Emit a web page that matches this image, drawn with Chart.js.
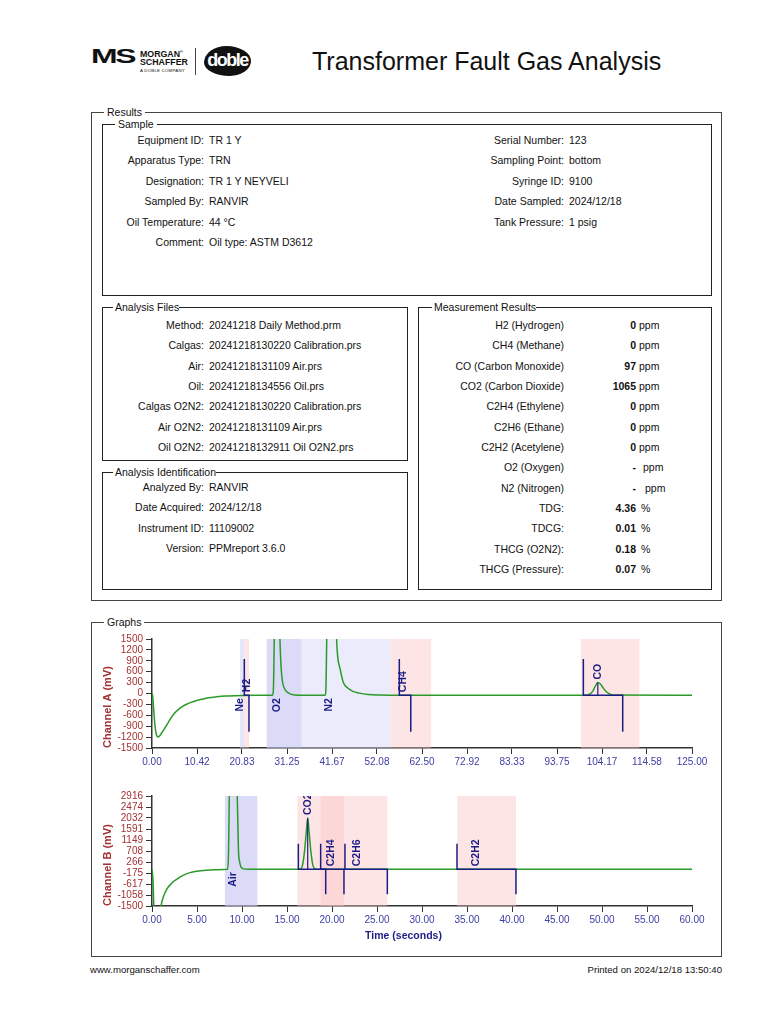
<!DOCTYPE html>
<html><head><meta charset="utf-8">
<script src="https://cdn.jsdelivr.net/npm/chart.js@4.4.1/dist/chart.umd.min.js"></script>
<style>
html,body{margin:0;padding:0;background:#fff;}
body{width:768px;height:1024px;position:relative;overflow:hidden;font-family:"Liberation Sans",Arial,sans-serif;color:#111;}
.box{position:absolute;border:1px solid #222;box-sizing:border-box;}
.outer{border:1.5px solid #444;}
.lg{position:absolute;background:#fff;font-size:10.5px;line-height:12px;padding:0 3px;transform:translateY(-50%);white-space:nowrap;}
.lbl,.val{position:absolute;font-size:10.5px;line-height:12px;transform:translateY(-50%);white-space:nowrap;}
.lbl{text-align:right;}
canvas{position:absolute;}
</style></head>
<body>
<!-- header -->
<div style="position:absolute;left:91px;top:45px;font:bold 21px/22px 'Liberation Sans',Arial;transform:scaleX(1.52);transform-origin:left top;letter-spacing:-1.5px;">MS</div>
<div style="position:absolute;left:140px;top:48px;font:bold 8.8px/8.5px 'Liberation Sans',Arial;">MORGAN<sup style="font-size:4px">®</sup><br>SCHAFFER</div>
<div style="position:absolute;left:140px;top:68px;font:4.4px/5px 'Liberation Sans',Arial;letter-spacing:0.2px;">A DOBLE COMPANY</div>
<div style="position:absolute;left:195px;top:48px;width:1px;height:27px;background:#444;"></div>
<div style="position:absolute;left:204px;top:46px;width:47px;height:30px;background:#111;border-radius:48% 52% 45% 55%/55% 50% 50% 45%;color:#fff;font:bold 18px/29px 'Liberation Sans',Arial;text-align:center;letter-spacing:-1.5px;">doble</div>
<div style="position:absolute;left:312px;top:46px;font:25px/30px 'Liberation Sans',Arial;color:#111;white-space:nowrap;">Transformer Fault Gas Analysis</div>

<!-- boxes -->
<div class="box outer" style="left:91px;top:112px;width:631px;height:489px;"></div>
<div class="lg" style="left:104px;top:112px;">Results</div>
<div class="box" style="left:102px;top:124px;width:610px;height:172px;"></div>
<div class="lg" style="left:115px;top:124px;">Sample</div>
<div class="box" style="left:102px;top:307px;width:306px;height:154px;"></div>
<div class="lg" style="left:113px;top:307px;padding:0 0 0 2px;">Analysis Files</div>
<div class="box" style="left:102px;top:472px;width:306px;height:118px;"></div>
<div class="lg" style="left:113px;top:472px;padding:0 0 0 2px;">Analysis Identification</div>
<div class="box" style="left:418px;top:307px;width:294px;height:283px;"></div>
<div class="lg" style="left:432px;top:307px;padding:0 0 0 2px;">Measurement Results</div>
<div class="box outer" style="left:91px;top:622px;width:631px;height:335px;"></div>
<div class="lg" style="left:104px;top:622px;">Graphs</div>
<div id="rows"></div>

<canvas id="chA" width="617" height="140" style="left:95px;top:630px;width:617px;height:140px;"></canvas>
<canvas id="chB" width="617" height="158" style="left:95px;top:787px;width:617px;height:158px;"></canvas>

<div style="position:absolute;left:90px;top:964px;font:9.6px/12px 'Liberation Sans',Arial;">www.morganschaffer.com</div>
<div style="position:absolute;right:46px;top:964px;font:9.6px/12px 'Liberation Sans',Arial;">Printed on 2024/12/18 13:50:40</div>

<script>
// ---------- report text ----------
const sampleLeft = [["Equipment ID:","TR 1 Y"],["Apparatus Type:","TRN"],["Designation:","TR 1 Y NEYVELI"],["Sampled By:","RANVIR"],["Oil Temperature:","44 °C"],["Comment:","Oil type: ASTM D3612"]];
const sampleRight = [["Serial Number:","123"],["Sampling Point:","bottom"],["Syringe ID:","9100"],["Date Sampled:","2024/12/18"],["Tank Pressure:","1 psig"]];
const analysisFiles = [["Method:","20241218 Daily Method.prm"],["Calgas:","20241218130220 Calibration.prs"],["Air:","20241218131109 Air.prs"],["Oil:","20241218134556 Oil.prs"],["Calgas O2N2:","20241218130220 Calibration.prs"],["Air O2N2:","20241218131109 Air.prs"],["Oil O2N2:","20241218132911 Oil O2N2.prs"]];
const analysisId = [["Analyzed By:","RANVIR"],["Date Acquired:","2024/12/18"],["Instrument ID:","11109002"],["Version:","PPMreport 3.6.0"]];
const measNames = ["H2 (Hydrogen)","CH4 (Methane)","CO (Carbon Monoxide)","CO2 (Carbon Dioxide)","C2H4 (Ethylene)","C2H6 (Ethane)","C2H2 (Acetylene)","O2 (Oxygen)","N2 (Nitrogen)","TDG:","TDCG:","THCG (O2N2):","THCG (Pressure):"];
const measValues = ["0","0","97","1065","0","0","0","-","-","4.36","0.01","0.18","0.07"];
const measUnits = ["ppm","ppm","ppm","ppm","ppm","ppm","ppm","ppm","ppm","%","%","%","%"];

const rowsEl = document.getElementById('rows');
function addText(cls, txt, x, y, right, bold){
  const d = document.createElement('div');
  d.className = cls; d.textContent = txt;
  if (right) d.style.right = (768 - x) + 'px'; else d.style.left = x + 'px';
  d.style.top = y + 'px';
  if (bold) d.style.fontWeight = 'bold';
  rowsEl.appendChild(d);
}
function block(rows, y0, dy, labRight, valLeft){
  rows.forEach((r,i)=>{ const y = y0 + dy*i; addText('lbl', r[0], labRight, y, true); addText('val', r[1], valLeft, y, false); });
}
block(sampleLeft, 140, 20.4, 204, 209);
block(sampleRight, 140, 20.4, 564, 569);
block(analysisFiles, 325, 20.33, 204, 209);
block(analysisId, 487, 20.33, 204, 209);
measNames.forEach((n,i)=>{
  const y = 325 + 20.33*i;
  addText('lbl', n, 564, y, true);
  addText('lbl', measValues[i], 636, y, true, true);
  const ux = measUnits[i] === '%' ? 641 : (measValues[i] === '-' ? (i === 8 ? 645 : 643) : 639);
  addText('val', measUnits[i], ux, y, false);
});

// ---------- chart data ----------
// Channel A trace (time s, mV)
const timeA  = [0, 0.15, 0.4, 0.7, 1.0, 1.45, 2.0, 2.7, 3.5, 4.3, 5.0, 6.0, 7.0, 8.0, 9.0, 10.0, 11.5, 13.0, 15.0, 17.0, 19.0, 21.0, 24.0, 27.9, 28.1, 28.3, 28.6, 29.3, 29.6, 29.9, 30.2, 30.6, 31.2, 32.0, 33.0, 35.0, 40.1, 40.25, 40.45, 40.8, 42.3, 42.7, 43.0, 43.5, 44.3, 45.3, 46.5, 48.0, 50.0, 53.0, 57.0, 100.5, 101.3, 102.0, 102.6, 103.2, 103.8, 104.4, 105.0, 105.7, 106.5, 125.0];
const valueA = [0, -60, -450, -900, -1120, -1195, -1130, -1000, -850, -690, -570, -450, -360, -295, -245, -205, -160, -120, -92, -72, -60, -52, -47, -45, 100, 1500, 4000, 4000, 1600, 700, 330, 150, 50, -10, -40, -45, -45, 100, 1500, 4000, 4000, 1600, 1000, 700, 300, 150, 60, 10, -25, -40, -45, -45, -20, 60, 200, 300, 260, 160, 70, 5, -40, -45];
// Channel B trace
const timeB  = [0, 0.1, 0.25, 0.5, 0.8, 1.0, 1.3, 1.63, 2.2, 2.74, 3.4, 4.22, 5.0, 6.07, 7.0, 8.0, 8.4, 8.5, 8.65, 9.35, 9.5, 9.6, 9.75, 9.9, 10.2, 10.6, 12.0, 16.4, 16.7, 16.95, 17.15, 17.3, 17.45, 17.65, 17.9, 18.2, 18.5, 60.0];
const valueB = [-20, -400, -2000, -3000, -2100, -1500, -1100, -830, -580, -427, -280, -160, -105, -65, -45, -30, -25, 600, 4000, 4000, 2500, 800, 250, 60, -10, -25, -25, -25, 100, 700, 1500, 2030, 1500, 700, 100, -20, -25, -25];

// axis ticks
const xTickValuesA = [0, 10.42, 20.83, 31.25, 41.67, 52.08, 62.5, 72.92, 83.33, 93.75, 104.17, 114.58, 125];
const xTickLabelsA = ['0.00','10.42','20.83','31.25','41.67','52.08','62.50','72.92','83.33','93.75','104.17','114.58','125.00'];
const yTickValuesA = [-1500, -1200, -900, -600, -300, 0, 300, 600, 900, 1200, 1500];
const yTickLabelsA = ['-1500','-1200','-900','-600','-300','0','300','600','900','1200','1500'];
const xTickValuesB = [0, 5, 10, 15, 20, 25, 30, 35, 40, 45, 50, 55, 60];
const xTickLabelsB = ['0.00','5.00','10.00','15.00','20.00','25.00','30.00','35.00','40.00','45.00','50.00','55.00','60.00'];
const yTickValuesB = [-1500, -1058.4, -616.8, -175.2, 266.4, 708, 1149.6, 1591.2, 2032.8, 2474.4, 2916];
const yTickLabelsB = ['-1500','-1058','-617','-175','266','708','1149','1591','2032','2474','2916'];

// integration windows (shaded)
const regionStartA = [20.37, 21.37, 26.55, 34.65, 55.3, 99.3];
const regionEndA   = [21.37, 22.45, 34.65, 55.3, 64.6, 112.8];
const regionKindA  = ['b0', 'p', 'b1', 'b2', 'p', 'p'];
const regionStartB = [8.1, 16.15, 18.74, 33.9];
const regionEndB   = [11.7, 21.33, 26.15, 40.45];
const regionKindB  = ['b1', 'p', 'p', 'p'];

// peak window markers
const markerStartA = [21.37, 57.25, 99.85];
const markerEndA   = [22.45, 59.9, 108.96];
const markerUpA    = [950, 950, 950];
const markerDownA  = [-1050, -1050, -1050];
const markerBaseA  = -45;
const markerStartB = [16.26, 18.74, 21.44, 33.89];
const markerEndB   = [19.3, 21.33, 26.15, 40.44];
const markerUpB    = [1000, 1000, 1000, 1000];
const markerDownB  = [-1030, -1030, -1030, -1030];
const markerBaseB  = -25;
const apexTimeA = [103.2], apexValueA = [300];
const apexTimeB = [17.3], apexValueB = [2030];

// peak labels
const labelTextA  = ['Ne', 'H2', 'O2', 'N2', 'CH4', 'CO'];
const labelTimeA  = [20.5, 22.1, 28.9, 41.1, 58.1, 103.2];
const labelValueA = [-45, -45, -45, -45, -45, 300];
const labelSideA  = ['below', 'above', 'below', 'below', 'above', 'above'];
const labelTextB  = ['Air', 'CO2', 'C2H4', 'C2H6', 'C2H2'];
const labelTimeB  = [9.03, 17.3, 19.87, 22.8, 36.0];
const labelValueB = [-25, 2030, -25, -25, -25];
const labelSideB  = ['below', 'above', 'above', 'above', 'above'];

// ---------- styles ----------
const FONT = "'Liberation Sans', Arial, sans-serif";
const GREEN = '#2a9a2a', NAVY = '#1c1c85', RED = '#a33232', XBLUE = '#3d3da3', AXIS = '#333';
const REGION_COLORS = {b0: 'rgba(205,205,245,0.5)', b1: 'rgba(200,200,242,0.65)', b2: 'rgba(215,215,248,0.5)', p: 'rgba(252,198,198,0.45)'};

Chart.defaults.font.family = FONT;

function decorPlugin(rs, re, rk, lt, ltime, lval, lside, xtitle){
  return {
    id: 'decor',
    beforeDatasetsDraw(chart){
      const {ctx, chartArea: a, scales: {x}} = chart;
      ctx.save();
      rs.forEach((s, i) => {
        const x1 = x.getPixelForValue(s), x2 = x.getPixelForValue(re[i]);
        ctx.fillStyle = REGION_COLORS[rk[i]];
        ctx.fillRect(x1, a.top, x2 - x1, a.bottom - a.top);
      });
      ctx.restore();
    },
    afterDatasetsDraw(chart){
      const {ctx, chartArea: a, scales: {x, y}} = chart;
      ctx.save();
      ctx.beginPath(); ctx.rect(a.left, a.top, a.right - a.left, a.bottom - a.top); ctx.clip();
      ctx.font = 'bold 10.5px ' + FONT;
      ctx.fillStyle = NAVY;
      ctx.textBaseline = 'middle';
      lt.forEach((t, i) => {
        const px = x.getPixelForValue(ltime[i]);
        const py = y.getPixelForValue(lval[i]);
        ctx.save();
        ctx.translate(px, lside[i] === 'above' ? py - 3 : py + 3);
        ctx.rotate(-Math.PI / 2);
        ctx.textAlign = lside[i] === 'above' ? 'left' : 'right';
        ctx.fillText(t, 0, 0);
        ctx.restore();
      });
      ctx.restore();
    },
    afterDraw(chart){
      if (!xtitle) return;
      const ctx = chart.ctx;
      ctx.save();
      ctx.font = 'bold 10.5px ' + FONT;
      ctx.fillStyle = NAVY;
      ctx.textAlign = 'center';
      ctx.textBaseline = 'middle';
      ctx.fillText(xtitle, chart.width / 2, chart.chartArea.bottom + 30);
      ctx.restore();
    }
  };
}

function buildDatasets(times, values, ms, me, mu, md, mb, at, av){
  const ds = [{
    data: times.map((t, i) => ({x: t, y: values[i]})),
    borderColor: GREEN, borderWidth: 1.5, pointRadius: 0, cubicInterpolationMode: 'monotone', order: 2
  }];
  ms.forEach((s, i) => {
    ds.push({
      data: [{x: s, y: mu[i]}, {x: s, y: mb}, {x: me[i], y: mb}, {x: me[i], y: md[i]}],
      borderColor: NAVY, borderWidth: 1.5, pointRadius: 0, tension: 0, order: 1
    });
  });
  at.forEach((t, i) => {
    ds.push({data: [{x: t, y: mb}, {x: t, y: av[i]}], borderColor: NAVY, borderWidth: 1.2, pointRadius: 0, order: 1});
  });
  return ds;
}

function makeChart(id, cfg){
  return new Chart(document.getElementById(id), {
    type: 'line',
    data: {datasets: buildDatasets(cfg.times, cfg.values, cfg.ms, cfg.me, cfg.mu, cfg.md, cfg.mb, cfg.at, cfg.av)},
    options: {
      responsive: false, animation: false, devicePixelRatio: 1, events: [],
      layout: {padding: {top: 9, right: 20, left: 0, bottom: 0}},
      plugins: {legend: {display: false}, tooltip: {enabled: false}},
      scales: {
        x: {
          type: 'linear', min: cfg.xmin, max: cfg.xmax,
          afterBuildTicks: s => { s.ticks = cfg.xtv.map(v => ({value: v})); },
          afterFit: s => { s.height = cfg.xh; },
          ticks: {autoSkip: false, maxRotation: 0, minRotation: 0, padding: 2, color: XBLUE, font: {size: 10}, callback: (v, i) => cfg.xtl[i]},
          grid: {drawOnChartArea: false, drawTicks: true, tickLength: 6, color: AXIS, lineWidth: 1},
          border: {display: true, color: AXIS, width: 1.5}
        },
        y: {
          type: 'linear', min: cfg.ymin, max: cfg.ymax,
          afterBuildTicks: s => { s.ticks = cfg.ytv.map(v => ({value: v})); },
          afterFit: s => { s.width = 57; },
          ticks: {autoSkip: false, padding: 3, color: RED, font: {size: 10}, callback: (v, i) => cfg.ytl[i]},
          grid: {drawOnChartArea: false, drawTicks: true, tickLength: 6, color: AXIS, lineWidth: 1},
          border: {display: true, color: AXIS, width: 1.5},
          title: {display: true, text: cfg.ytitle, align: 'start', color: RED, font: {size: 11, weight: 'bold'}, padding: {top: 6, bottom: 0}}
        }
      }
    },
    plugins: [decorPlugin(cfg.rs, cfg.re, cfg.rk, cfg.lt, cfg.ltime, cfg.lval, cfg.lside, cfg.xtitle)]
  });
}

makeChart('chA', {
  times: timeA, values: valueA, ms: markerStartA, me: markerEndA, mu: markerUpA, md: markerDownA, mb: markerBaseA,
  at: apexTimeA, av: apexValueA, xmin: 0, xmax: 125, ymin: -1500, ymax: 1500,
  xtv: xTickValuesA, xtl: xTickLabelsA, ytv: yTickValuesA, ytl: yTickLabelsA, xh: 22,
  ytitle: 'Channel A (mV)', rs: regionStartA, re: regionEndA, rk: regionKindA,
  lt: labelTextA, ltime: labelTimeA, lval: labelValueA, lside: labelSideA
});
makeChart('chB', {
  times: timeB, values: valueB, ms: markerStartB, me: markerEndB, mu: markerUpB, md: markerDownB, mb: markerBaseB,
  at: apexTimeB, av: apexValueB, xmin: 0, xmax: 60, ymin: -1500, ymax: 2916,
  xtv: xTickValuesB, xtl: xTickLabelsB, ytv: yTickValuesB, ytl: yTickLabelsB, xh: 39, xtitle: 'Time (seconds)',
  ytitle: 'Channel B (mV)', rs: regionStartB, re: regionEndB, rk: regionKindB,
  lt: labelTextB, ltime: labelTimeB, lval: labelValueB, lside: labelSideB
});
</script>
</body></html>
